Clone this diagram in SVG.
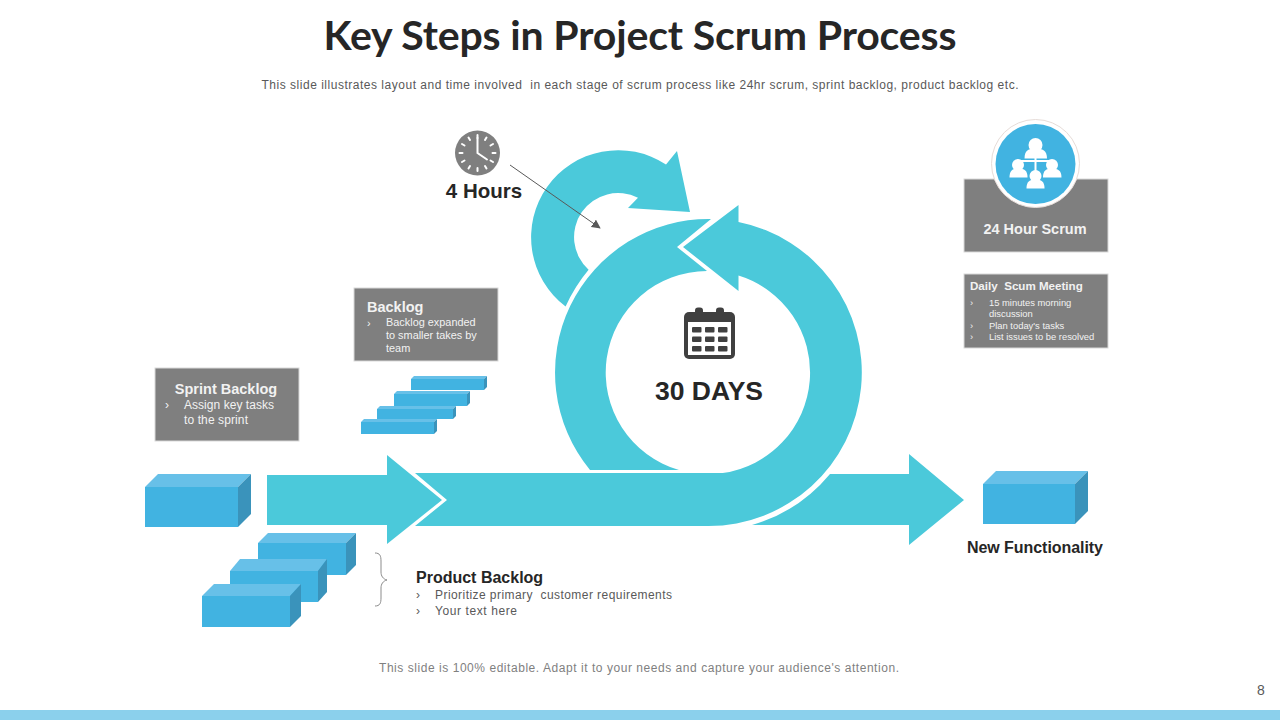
<svg xmlns="http://www.w3.org/2000/svg" width="1280" height="720" viewBox="0 0 1280 720">
<style>
text{font-family:"Liberation Sans",Arial,sans-serif;white-space:pre}
.teal{fill:#4bc9da}
.box{fill:#7f7f7f;stroke:#d9d9d9;stroke-width:1}
.front{fill:#41b3e1}.top{fill:#67c0e8}.side{fill:#3a93bb}
.w{fill:#fff}.ws{fill:#f2f2f2}.k{fill:#262626}.g{fill:#7f7f7f}.dg{fill:#595959}
.b{font-weight:700}.m{text-anchor:middle}
.hand{stroke:#fff;stroke-linecap:round;fill:none}
</style>
<defs>
<marker id="ah" viewBox="0 0 10 10" refX="9" refY="5" markerWidth="9" markerHeight="9" markerUnits="userSpaceOnUse" orient="auto"><path d="M0,0L10,5L0,10Z" fill="#595959"/></marker>
</defs>
<rect width="1280" height="720" fill="#fff"/>
<g id="header">
<text x="640" y="50" class="m" style="font-family:Lato,sans-serif;font-weight:700;fill:#262626" font-size="41" textLength="633">Key Steps in Project Scrum Process</text>
<text x="640" y="89" class="m dg" font-size="12" textLength="757">This slide illustrates layout and time involved  in each stage of scrum process like 24hr scrum, sprint backlog, product backlog etc.</text>
</g>
<g id="loop-small">
<path class="teal" d="M565.600,306.500A87,87 0 0 1 666,164.500L677,151L690,212L628,208L638,197.800A44,44 0 0 0 588.600,269.700A158,158 0 0 0 565.600,306.500Z"/>
</g>
<g id="flow-in">
<path class="teal" d="M267,475H387V455L442,500L387,544V525H267Z"/>
</g>
<g id="flow-out">
<path class="teal" d="M830,474H909V454L964,500L909,545V525H752A158,158 0 0 0 830,474Z"/>
</g>
<g id="sprint-ring-left">
<path class="teal" d="M590,470A153.500,153.500 0 0 1 711,219L677,247L707,271A101.500,101.500 0 0 0 679,470Z"/>
</g>
<g id="sprint-ring-main">
<path class="teal" d="M415,473H722.700A101.500,101.500 0 0 0 738.500,275.500V291L683,247L738.500,205V222A153.500,153.500 0 0 1 708.500,526H415L447,500Z"/>
</g>
<g id="clock">
<circle cx="477.500" cy="153" r="22.500" fill="#7f7f7f"/>
<g stroke="#fff" stroke-width="2" stroke-linecap="round">
<path d="M477.500,135v3M477.500,168v3M459.500,153h3M492.500,153h3M468.500,137.500l1.500,2.500M485,166l1.500,2.500M486.500,137.500l-1.500,2.500M470,166l-1.500,2.500M462,144l2.500,1.500M490.500,160.500l2.500,1.500M493,144l-2.500,1.500M464.500,160.500l-2.500,1.500"/>
</g>
<path class="hand" stroke-width="2" d="M477.500,138V153L487,159.500"/>
<text x="484" y="198" class="m b k" font-size="20.500">4 Hours</text>
</g>
<g id="calendar">
<rect x="684" y="312" width="51" height="47" rx="5" fill="#404040"/>
<rect x="695" y="307.500" width="8" height="8" rx="3" fill="#404040"/>
<rect x="716" y="307.500" width="8" height="8" rx="3" fill="#404040"/>
<rect x="688" y="322" width="43" height="33" fill="#fff"/>
<g fill="#404040">
<rect x="692" y="327" width="9.500" height="5.500" rx="1"/><rect x="705" y="327" width="9.500" height="5.500" rx="1"/><rect x="718" y="327" width="9.500" height="5.500" rx="1"/>
<rect x="692" y="336.500" width="9.500" height="5.500" rx="1"/><rect x="705" y="336.500" width="9.500" height="5.500" rx="1"/><rect x="718" y="336.500" width="9.500" height="5.500" rx="1"/>
<rect x="692" y="346" width="9.500" height="5.500" rx="1"/><rect x="705" y="346" width="9.500" height="5.500" rx="1"/><rect x="718" y="346" width="9.500" height="5.500" rx="1"/>
</g>
<text x="709" y="400" class="m b k" font-size="26.500">30 DAYS</text>
</g>
<g id="scrum-24">
<rect class="box" x="964" y="179" width="144" height="73"/>
<circle cx="1035.500" cy="163.500" r="44" fill="#fff" stroke="#e6dcd8" stroke-width="1"/>
<circle cx="1035.500" cy="164" r="40" fill="#41b3e1"/>
<g fill="#fff">
<circle cx="1035.500" cy="145" r="7"/><path d="M1024.500,158.500c0-8 4-10 11-10s11.500,2 11.500,10Z"/>
<circle cx="1018" cy="165" r="6"/><path d="M1009.500,177.500c0-7 3-9 9-9s9,2 9,9Z"/>
<circle cx="1052" cy="165" r="6"/><path d="M1043,177.500c0-7 3-9 9-9s9.500,2 9.500,9Z"/>
<circle cx="1035.500" cy="176" r="6"/><path d="M1026.500,188.500c0-7 3-9 9-9s9,2 9,9Z"/>
<path d="M1034.500,156h2v16h-2ZM1021,160h29v2h-29Z"/>
</g>
<text x="1035" y="234" class="m b ws" font-size="14.500">24 Hour Scrum</text>
</g>
<g id="daily-meeting">
<rect class="box" x="964" y="274" width="144" height="74"/>
<text x="970" y="290" class="b ws" font-size="11.600">Daily  Scum Meeting</text>
<g class="ws" font-size="9.400">
<text x="970" y="306">›</text><text x="989" y="306">15 minutes morning</text>
<text x="989" y="317">discussion</text>
<text x="970" y="329">›</text><text x="989" y="329">Plan today's tasks</text>
<text x="970" y="340">›</text><text x="989" y="340">List issues to be resolved</text>
</g>
</g>
<g id="backlog">
<rect class="box" x="354" y="288" width="144" height="73"/>
<text x="367" y="312" class="b ws" font-size="14.500">Backlog</text>
<g class="ws" font-size="10.900">
<text x="367" y="327">›</text><text x="386" y="326">Backlog expanded</text>
<text x="386" y="339">to smaller takes by</text>
<text x="386" y="352">team</text>
</g>
</g>
<g id="backlog-steps">
<path class="top" d="M411,379L414,376H487L484,379Z"/><path class="front" d="M411,379H484V390H411Z"/><path class="side" d="M484,379L487,376V387L484,390Z"/>
<path class="top" d="M394,394L397,391H470L467,394Z"/><path class="front" d="M394,394H467V406H394Z"/><path class="side" d="M467,394L470,391V403L467,406Z"/>
<path class="top" d="M377,409L380,406H456L453,409Z"/><path class="front" d="M377,409H453V419H377Z"/><path class="side" d="M453,409L456,406V416L453,419Z"/>
<path class="top" d="M361,422L364,419H437L434,422Z"/><path class="front" d="M361,422H434V434H361Z"/><path class="side" d="M434,422L437,419V431L434,434Z"/>
</g>
<g id="sprint-backlog">
<rect class="box" x="155" y="368" width="144" height="73"/>
<text x="226" y="394" class="m b ws" font-size="14.500">Sprint Backlog</text>
<g class="ws" font-size="12">
<text x="165" y="409">›</text><text x="184" y="409" textLength="90">Assign key tasks</text>
<text x="184" y="424" textLength="64">to the sprint</text>
</g>
</g>
<g id="sprint-cube">
<path class="top" d="M145,487L158,474H251L238,487Z"/><rect class="front" x="145" y="487" width="93" height="40"/><path class="side" d="M238,487L251,474V514L238,527Z"/>
</g>
<g id="product-cubes">
<path class="top" d="M258,543L268,533H356L346,543Z"/><rect class="front" x="258" y="543" width="88" height="32"/><path class="side" d="M346,543L356,533V565L346,575Z"/>
<path class="top" d="M230,571L240,559H327L318,571Z"/><rect class="front" x="230" y="571" width="88" height="31"/><path class="side" d="M318,571L327,559V592L318,602Z"/>
<path class="top" d="M202,596L214,584H301L290,596Z"/><rect class="front" x="202" y="596" width="88" height="31"/><path class="side" d="M290,596L301,584V616L290,627Z"/>
</g>
<g id="product-backlog">
<path d="M375,553C380,553 381,556 381,561V572C381,576 383,579 387,580C383,581 381,584 381,588V598C381,603 380,606 375,606" fill="none" stroke="#8c8c8c" stroke-width="1"/>
<text x="416" y="583" class="b k" font-size="16">Product Backlog</text>
<g class="dg" font-size="12">
<text x="416" y="599">›</text><text x="435" y="599" textLength="237">Prioritize primary  customer requirements</text>
<text x="416" y="615">›</text><text x="435" y="615" textLength="82">Your text here</text>
</g>
</g>
<g id="new-functionality">
<path class="top" d="M983,484L996,471H1088L1075,484Z"/><rect class="front" x="983" y="484" width="92" height="40"/><path class="side" d="M1075,484L1088,471V511L1075,524Z"/>
<text x="1035" y="553" class="m b k" font-size="16" textLength="136">New Functionality</text>
</g>
<g id="connectors">
<line x1="510" y1="165" x2="600" y2="228" stroke="#595959" stroke-width="1" marker-end="url(#ah)"/>
</g>
<g id="footer">
<text x="639" y="672" class="m g" font-size="12" textLength="520">This slide is 100% editable. Adapt it to your needs and capture your audience's attention.</text>
<text x="1261" y="695" class="m dg" font-size="14">8</text>
<rect y="710" width="1280" height="10" fill="#8bd0ec"/>
</g>
</svg>
